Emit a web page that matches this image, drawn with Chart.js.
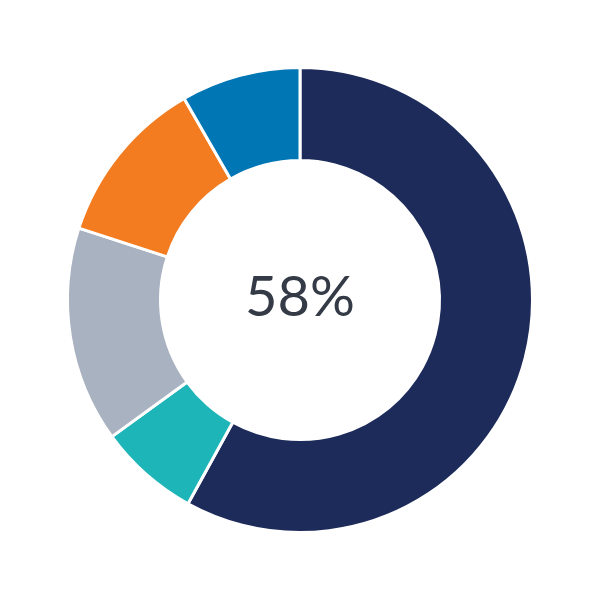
<!DOCTYPE html>
<html>
<head>
<meta charset="utf-8">
<script src="https://cdn.jsdelivr.net/npm/chart.js@4"></script>
<style>
  html, body { margin: 0; padding: 0; background: #fff; }
  #wrap { position: relative; width: 600px; height: 600px; }
  #centerText {
    position: absolute; left: 0; top: -6px; width: 600px; height: 600px;
    display: flex; align-items: center; justify-content: center;
    font-family: Lato, "Open Sans", sans-serif; font-size: 56px; color: #343b46;
    pointer-events: none;
  }
</style>
</head>
<body>
<div id="wrap">
  <canvas id="myChart" width="600" height="600"></canvas>
  <div id="centerText"></div>
</div>
<script>
  // data, clockwise from 12 o'clock
  var labels = ["A", "B", "C", "D", "E"];
  var values = [58, 7, 15, 11.7, 8.3];
  var colors = ["#1c2b5a", "#1db5b8", "#a8b2c0", "#f37c20", "#0076b5"];
  var centerLabel = "58%";

  document.getElementById("centerText").textContent = centerLabel;

  var ctx = document.getElementById("myChart").getContext("2d");
  var chart = new Chart(ctx, {
    type: "doughnut",
    data: {
      labels: labels,
      datasets: [
        {
          data: values,
          backgroundColor: colors,
          borderColor: "#ffffff",
          borderWidth: 3,
        },
      ],
    },
    options: {
      responsive: false,
      animation: false,
      cutout: "60%",
      layout: { padding: 66 },
      plugins: {
        legend: { display: false },
        tooltip: { enabled: false },
      },
    },
  });
</script>
</body>
</html>
